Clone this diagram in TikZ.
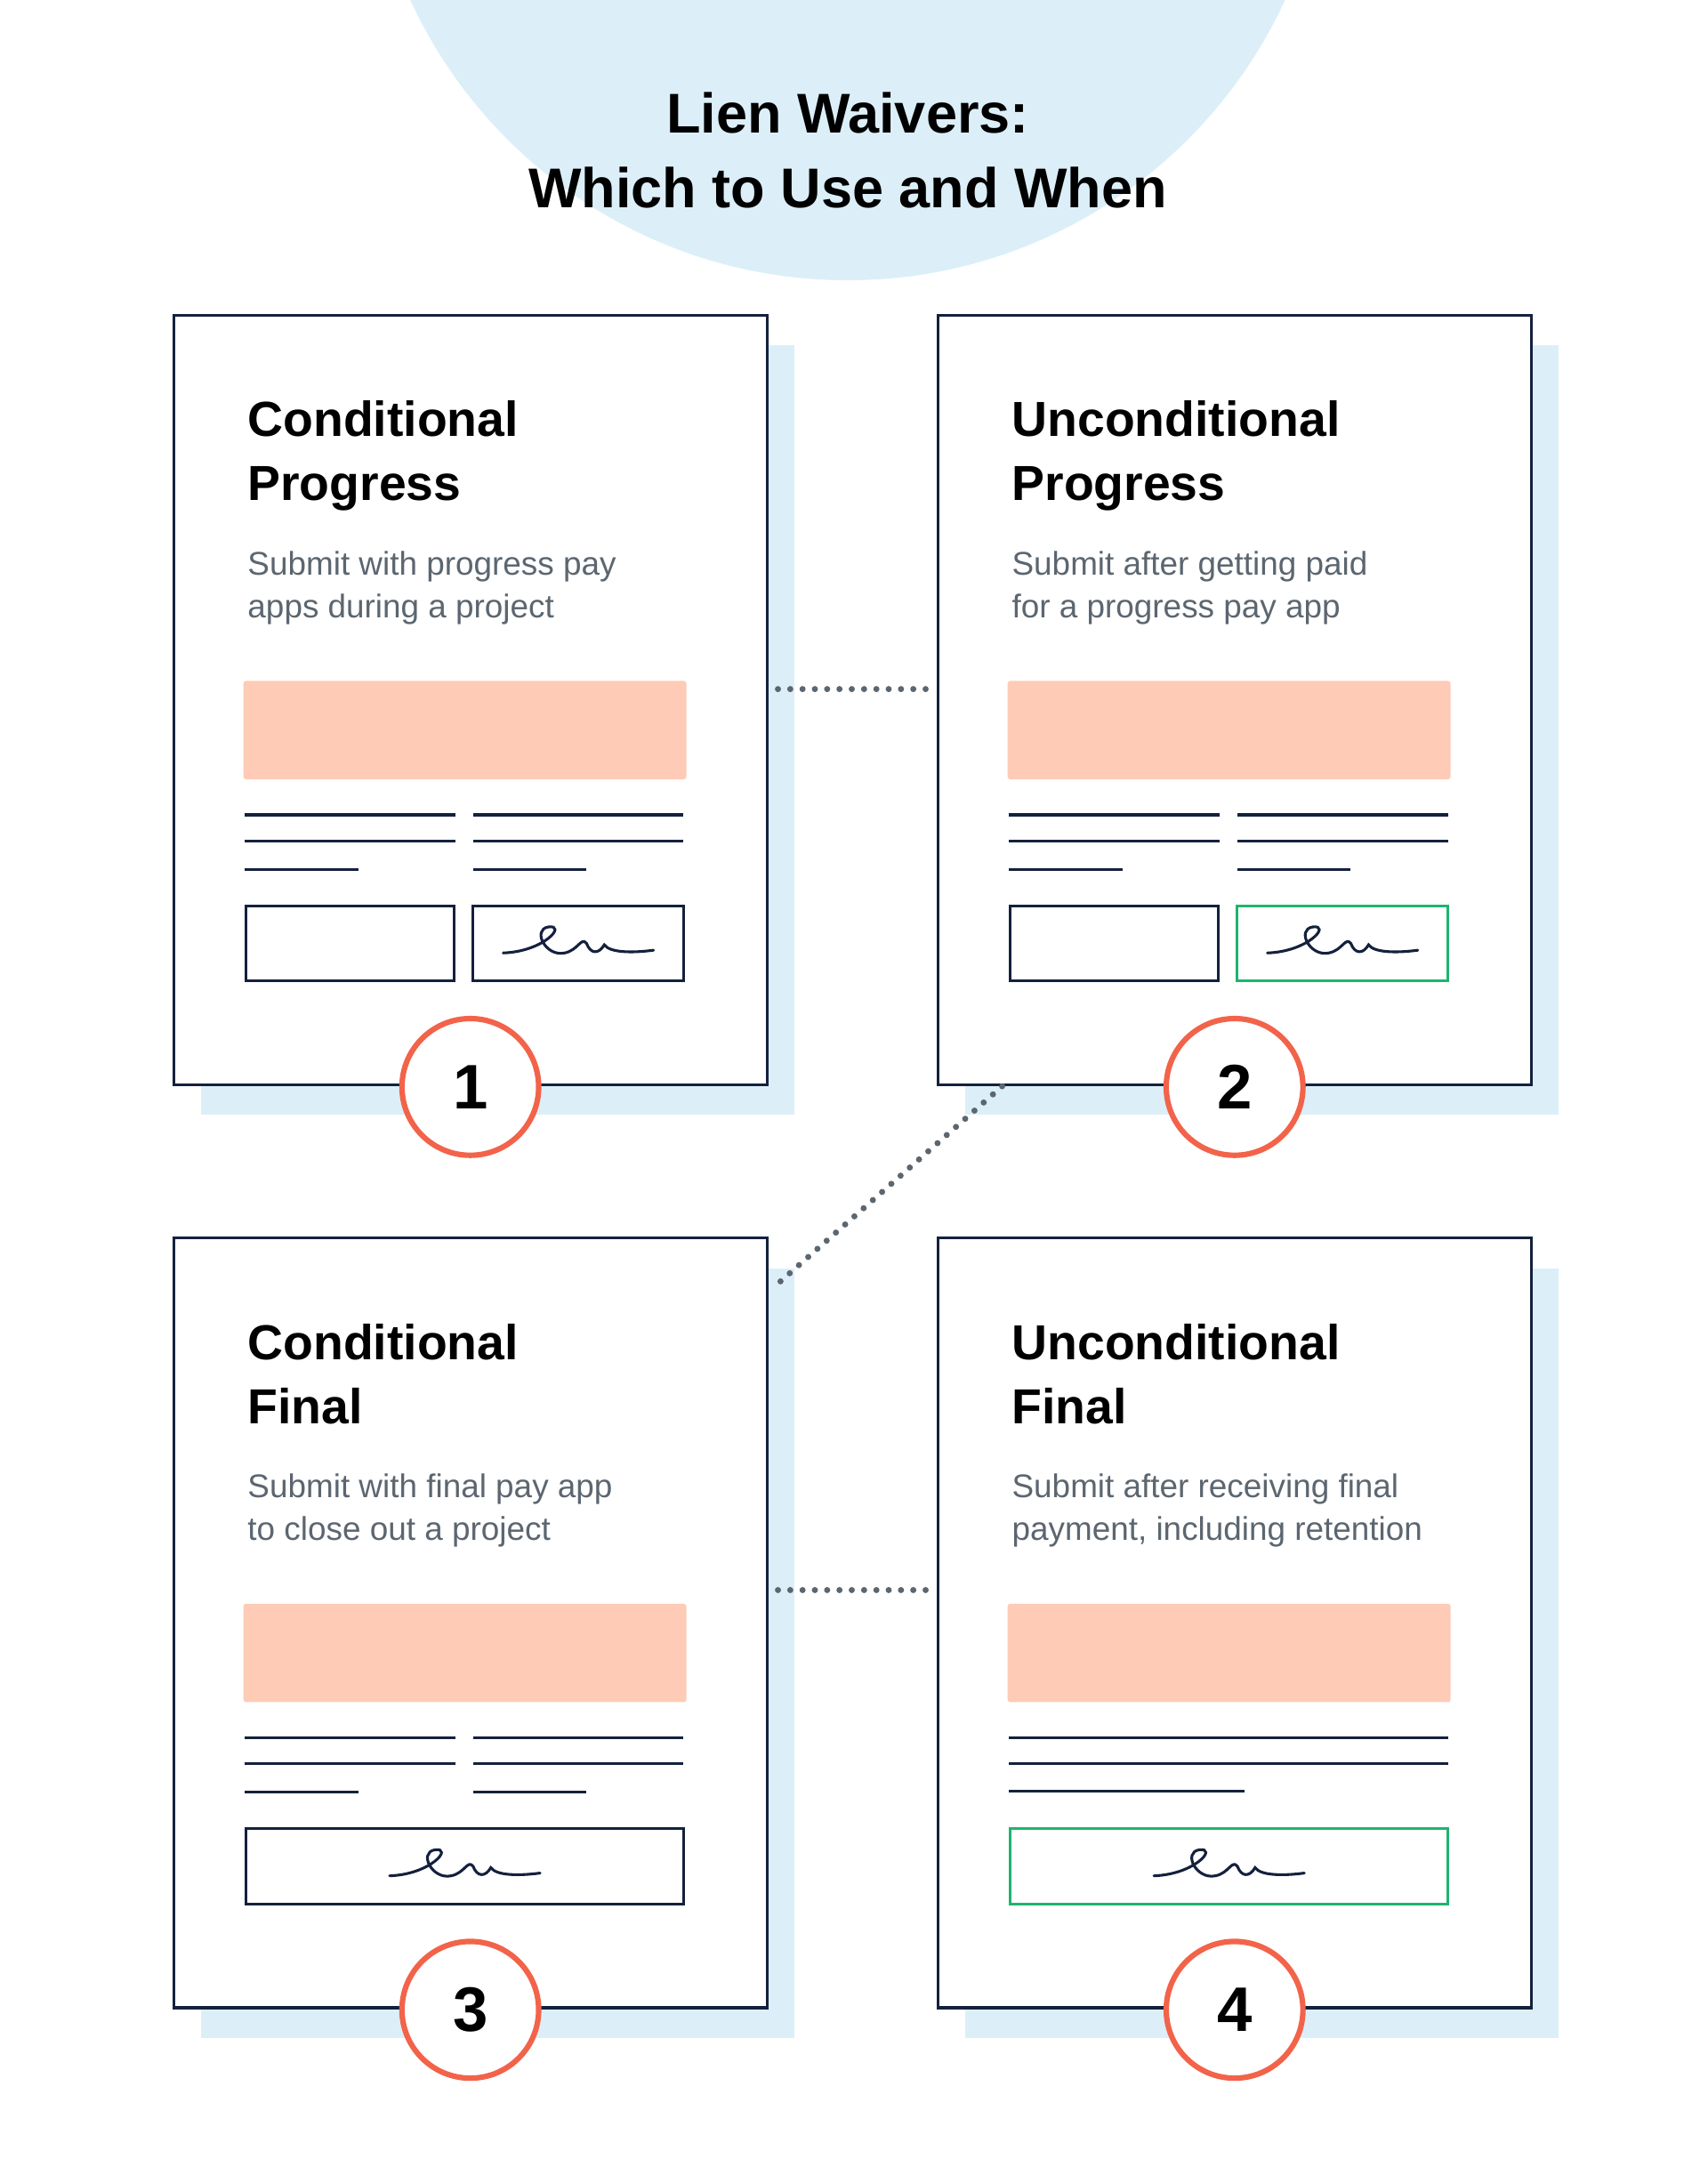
\documentclass[tikz,border=0pt]{standalone}
\usepackage{fontspec}
\setmainfont{Liberation Sans}
\usetikzlibrary{calc}
\definecolor{skyblue}{HTML}{DCEFF8}
\definecolor{peach}{HTML}{FECBB6}
\definecolor{navy}{HTML}{14213D}
\definecolor{slate}{HTML}{5C6670}
\definecolor{badgered}{HTML}{F2634A}
\definecolor{signgreen}{HTML}{1DB56F}
\tikzset{
  card/.style={draw=navy, line width=2pt, fill=white, minimum width=434pt, minimum height=563pt, inner sep=0pt},
  shadow/.style={fill=skyblue, draw=none, minimum width=434pt, minimum height=563pt, inner sep=0pt},
  heading/.style={anchor=north west, align=left, font=\fontsize{36}{47}\selectfont\bfseries, text=black, inner sep=0pt},
  blurb/.style={anchor=north west, align=left, font=\fontsize{24}{31}\selectfont, text=slate, inner sep=0pt},
  bar/.style={fill=peach, rounded corners=2pt, minimum width=324pt, minimum height=72pt, inner sep=0pt},
  rule/.style={navy, line width=2pt},
  slot/.style={draw=navy, line width=2pt, minimum height=55pt, inner sep=0pt},
  badge/.style={circle, draw=badgered, line width=4pt, fill=white, minimum size=100pt, font=\fontsize{46}{46}\selectfont\bfseries},
  link/.style={draw=slate, line width=4.5pt, dash pattern=on 0pt off 9pt, line cap=round},
  sign/.pic={\draw[navy, line width=2pt, line cap=round]
    (-55,7) .. controls (-25,6) and (-8,-14) .. (-22,-12)
    .. controls (-34,-10) and (-24,10) .. (-10,7)
    .. controls (0,5) and (2,-5) .. (6,0)
    .. controls (9,8) and (15,8) .. (19,1)
    .. controls (23,7) and (40,7) .. (55,5);}
}
\begin{document}
\begin{tikzpicture}[x=1pt, y=-1pt]
\useasboundingbox (0,0) rectangle (1249,1585);
\begin{scope}
  \clip (0,0) rectangle (1249,1585);
  \fill[skyblue] (620,-147) circle (352);
\end{scope}
\node[font=\fontsize{41}{55}\selectfont\bfseries, align=center] (title) at (620,110) {Lien Waivers:\\Which to Use and When};

% cards
\node[shadow] at (364,534) {};
\node[card] (c1) at (344,512) {};
\node[shadow] at (923,534) {};
\node[card] (c2) at (903,512) {};
\node[shadow] at (364,1209) {};
\node[card] (c3) at (344,1187) {};
\node[shadow] at (923,1209) {};
\node[card] (c4) at (903,1187) {};

% dotted links
\coordinate (l1) at ($(c1.east)+(0,-8)$);
\coordinate (r2) at ($(c2.west)+(0,-8)$);
\coordinate (b2) at ($(c2.south west)+(48,0)$);
\coordinate (t3) at ($(c3.north east)+(0,39)$);
\coordinate (l3) at ($(c3.east)+(0,-24)$);
\coordinate (r4) at ($(c4.west)+(0,-24)$);
\draw[link] ([xshift=7pt]l1) -- (r2);
\draw[link] (b2) -- ([shift={(4,-2)}]t3);
\draw[link] ([xshift=7pt]l3) -- (r4);

% texts
\node[heading] (h1) at (181,293) {Conditional\\Progress};
\node[blurb] (s1) at (181,403) {Submit with progress pay\\apps during a project};
\node[heading] (h2) at (740,293) {Unconditional\\Progress};
\node[blurb] (s2) at (740,403) {Submit after getting paid\\for a progress pay app};
\node[heading] (h3) at (181,968) {Conditional\\Final};
\node[blurb] (s3) at (181,1078) {Submit with final pay app\\to close out a project};
\node[heading] (h4) at (740,968) {Unconditional\\Final};
\node[blurb] (s4) at (740,1078) {Submit after receiving final\\payment, including retention};

% bars
\foreach \x/\y in {340/534, 899/534, 340/1209, 899/1209}
  \node[bar] at (\x,\y) {};

% rules, two columns
\foreach \x/\y in {179/596, 738/596, 179/1271}{
  \draw[rule] (\x,\y) -- ++(154,0);
  \draw[rule] (\x,\y+19) -- ++(154,0);
  \draw[rule] (\x,\y+40) -- ++(83,0);
  \draw[rule] (\x+167,\y) -- ++(154,0);
  \draw[rule] (\x+167,\y+19) -- ++(154,0);
  \draw[rule] (\x+167,\y+40) -- ++(83,0);
}
\draw[rule] (738,1271) -- ++(321,0);
\draw[rule] (738,1290) -- ++(321,0);
\draw[rule] (738,1310) -- ++(172,0);

% slots
\node[slot, minimum width=152pt] (d1) at (256,690) {};
\node[slot, minimum width=154pt] (g1) at (423,690) {};
\node[slot, minimum width=152pt] (d2) at (815,690) {};
\node[slot, minimum width=154pt, draw=signgreen] (g2) at (982,690) {};
\node[slot, minimum width=320pt] (g3) at (340,1365) {};
\node[slot, minimum width=320pt, draw=signgreen] (g4) at (899,1365) {};
\pic at (g1) {sign};
\pic at (g2) {sign};
\pic at (g3) {sign};
\pic at (g4) {sign};

% badges
\node[badge] (n1) at (344,795) {1};
\node[badge] (n2) at (903,795) {2};
\node[badge] (n3) at (344,1470) {3};
\node[badge] (n4) at (903,1470) {4};
\end{tikzpicture}
\end{document}
